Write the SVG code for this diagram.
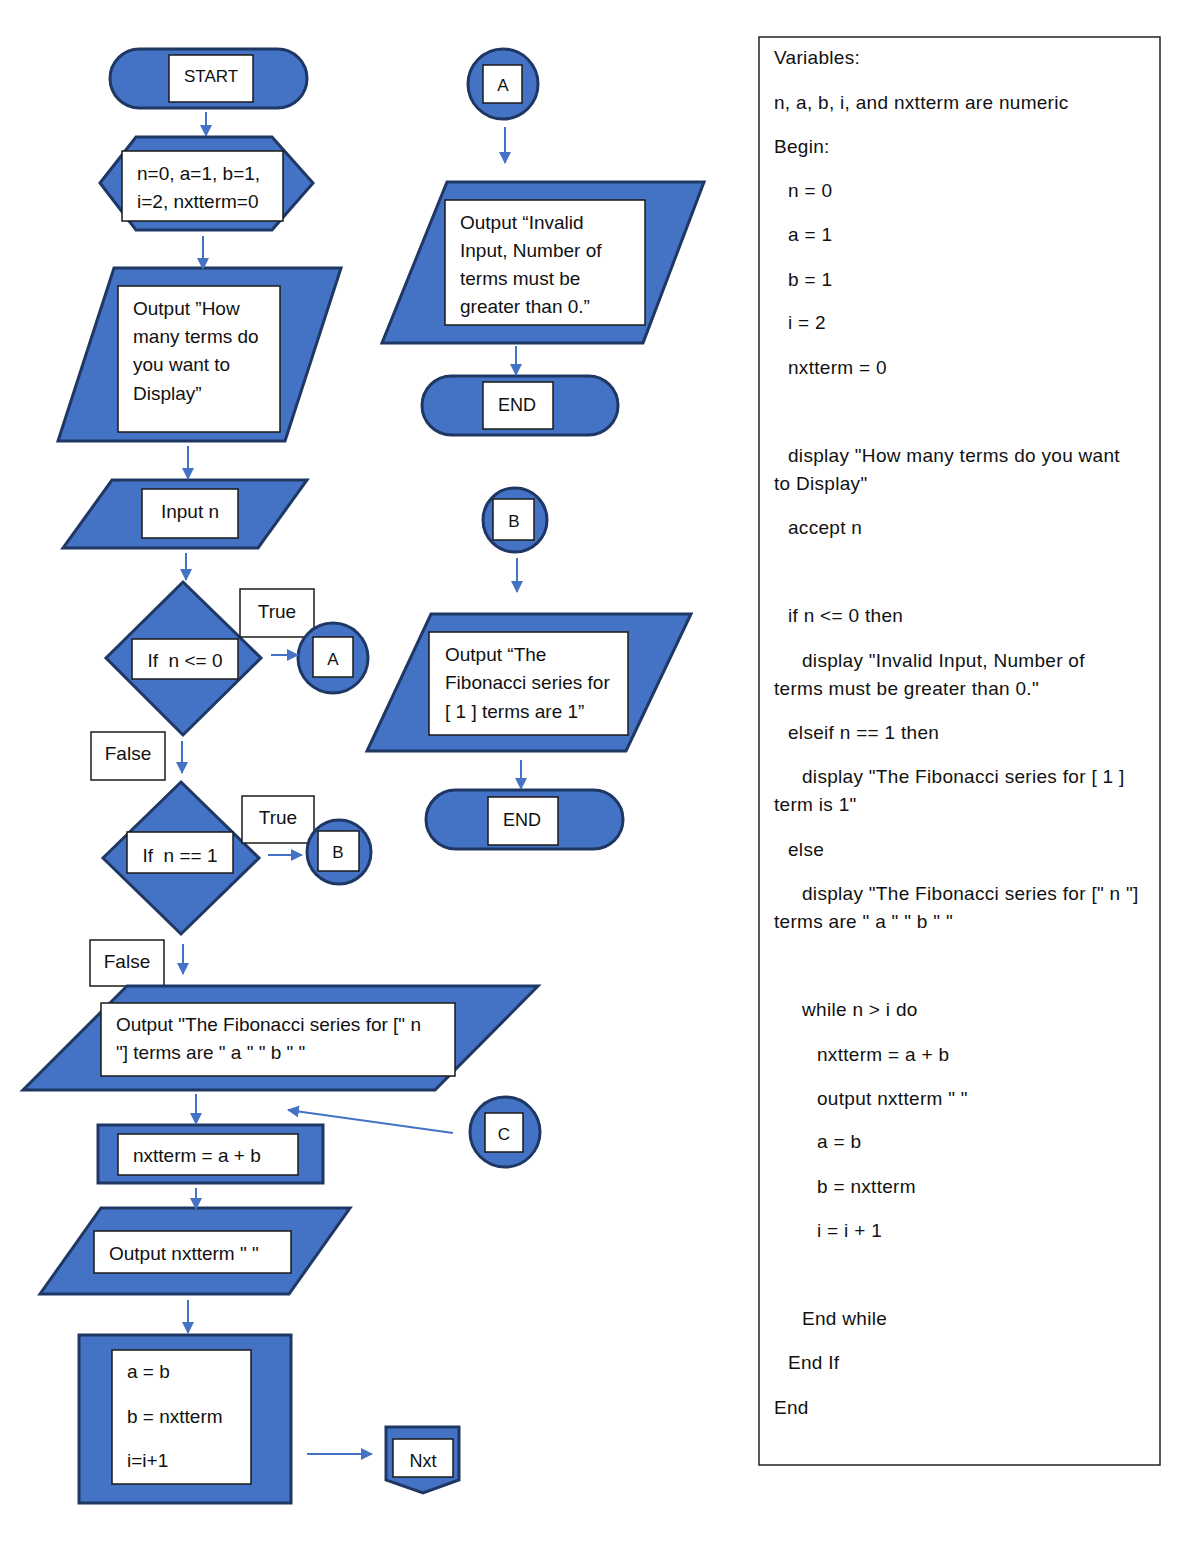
<svg xmlns="http://www.w3.org/2000/svg" width="1200" height="1553" viewBox="0 0 1200 1553">
<defs>
<style>
.sh{fill:#4472C4;stroke:#1F3763;stroke-width:3;stroke-linejoin:miter}
.bx{fill:#FFFFFF;stroke:#1a1a1a;stroke-width:1.5}
.t{font-family:"Liberation Sans",Arial,sans-serif;font-size:19px;fill:#111}
.m{text-anchor:middle}
.p{font-family:"Liberation Sans",Arial,sans-serif;font-size:19px;fill:#111;letter-spacing:0.3px}
.ln{stroke:#4472C4;stroke-width:2;fill:none;marker-end:url(#ah)}
</style>
<marker id="ah" markerUnits="userSpaceOnUse" markerWidth="12" markerHeight="12" refX="11" refY="6" orient="auto" viewBox="0 0 12 12">
<path d="M0,0 L12,6 L0,12 z" fill="#4472C4"/>
</marker>
</defs>
<rect width="1200" height="1553" fill="#FFFFFF"/>

<g id="start">
<rect class="sh" x="110" y="49" width="197" height="59" rx="29.5"/>
<rect class="bx" x="169" y="55" width="84" height="47"/>
<text class="t m" x="211" y="82" style="font-size:17px">START</text>
</g>

<g id="init">
<polygon class="sh" points="100,183 136,137 272,137 313,183 272,230 136,230"/>
<rect class="bx" x="122" y="151" width="161" height="70"/>
<text class="t" x="137" y="180">n=0, a=1, b=1,</text>
<text class="t" x="137" y="208">i=2, nxtterm=0</text>
</g>

<g id="out-how-many">
<polygon class="sh" points="114,268 341,268 285,441 58,441"/>
<rect class="bx" x="118" y="286" width="162" height="146"/>
<text class="t" x="133" y="315">Output ”How</text>
<text class="t" x="133" y="343">many terms do</text>
<text class="t" x="133" y="371">you want to</text>
<text class="t" x="133" y="400">Display”</text>
</g>

<g id="input-n">
<polygon class="sh" points="112,480 307,480 258,548 63,548"/>
<rect class="bx" x="142" y="489" width="96" height="49"/>
<text class="t m" x="190" y="518">Input n</text>
</g>

<g id="dec1">
<polygon class="sh" points="183,582 261,658 183,735 106,658"/>
<rect class="bx" x="132" y="639" width="106" height="40"/>
<text class="t m" x="185" y="667" xml:space="preserve">If  n &lt;= 0</text>
</g>

<g id="true1">
<rect class="bx" x="240" y="589" width="74" height="48"/>
<text class="t m" x="277" y="618">True</text>
</g>

<g id="conn-a1">
<circle class="sh" cx="333" cy="658" r="35"/>
<rect class="bx" x="313" y="637" width="40" height="40"/>
<text class="t m" x="333" y="665" style="font-size:17px">A</text>
</g>

<g id="false1">
<rect class="bx" x="91" y="732" width="74" height="48"/>
<text class="t m" x="128" y="760">False</text>
</g>

<g id="dec2">
<polygon class="sh" points="181,782 259,858 181,934 103,858"/>
<rect class="bx" x="127" y="832" width="106" height="41"/>
<text class="t m" x="180" y="862" xml:space="preserve">If  n == 1</text>
</g>

<g id="true2">
<rect class="bx" x="242" y="796" width="72" height="47"/>
<text class="t m" x="278" y="824">True</text>
</g>

<g id="conn-b1">
<circle class="sh" cx="339" cy="852" r="32"/>
<rect class="bx" x="318" y="831" width="41" height="40"/>
<text class="t m" x="338" y="858" style="font-size:17px">B</text>
</g>

<g id="false2">
<rect class="bx" x="90" y="940" width="74" height="46"/>
<text class="t m" x="127" y="968">False</text>
</g>

<g id="out-series">
<polygon class="sh" points="127,986 538,986 435,1090 23,1090"/>
<rect class="bx" x="101" y="1003" width="354" height="73"/>
<text class="t" x="116" y="1031">Output "The Fibonacci series for [" n</text>
<text class="t" x="116" y="1059">"] terms are " a " " b " "</text>
</g>

<g id="calc-next">
<rect class="sh" x="98" y="1125" width="225" height="58"/>
<rect class="bx" x="118" y="1134" width="180" height="41"/>
<text class="t" x="133" y="1162">nxtterm = a + b</text>
</g>

<g id="conn-c">
<circle class="sh" cx="505" cy="1132" r="35"/>
<rect class="bx" x="485" y="1113" width="38" height="39"/>
<text class="t m" x="504" y="1140" style="font-size:17px">C</text>
</g>

<g id="out-next">
<polygon class="sh" points="101,1208 350,1208 289,1294 40,1294"/>
<rect class="bx" x="94" y="1231" width="197" height="42"/>
<text class="t" x="109" y="1260">Output nxtterm " "</text>
</g>

<g id="update">
<rect class="sh" x="79" y="1335" width="212" height="168"/>
<rect class="bx" x="112" y="1350" width="139" height="134"/>
<text class="t" x="127" y="1378">a = b</text>
<text class="t" x="127" y="1423">b = nxtterm</text>
<text class="t" x="127" y="1467">i=i+1</text>
</g>

<g id="nxt">
<polygon class="sh" points="386,1427 459,1427 459,1480 423,1493 386,1480"/>
<rect class="bx" x="393" y="1439" width="60" height="38"/>
<text class="t m" x="423" y="1467" style="font-size:18px">Nxt</text>
</g>

<g id="conn-a2">
<circle class="sh" cx="503" cy="84" r="35"/>
<rect class="bx" x="483" y="65" width="39" height="38"/>
<text class="t m" x="503" y="91" style="font-size:17px">A</text>
</g>

<g id="out-invalid">
<polygon class="sh" points="447,182 704,182 643,343 382,343"/>
<rect class="bx" x="445" y="200" width="200" height="125"/>
<text class="t" x="460" y="229">Output “Invalid</text>
<text class="t" x="460" y="257">Input, Number of</text>
<text class="t" x="460" y="285">terms must be</text>
<text class="t" x="460" y="313">greater than 0.”</text>
</g>

<g id="end1">
<rect class="sh" x="422" y="376" width="196" height="59" rx="29.5"/>
<rect class="bx" x="483" y="382" width="70" height="47"/>
<text class="t m" x="517" y="411" style="font-size:18px">END</text>
</g>

<g id="conn-b2">
<circle class="sh" cx="515" cy="520" r="32"/>
<rect class="bx" x="493" y="499" width="41" height="41"/>
<text class="t m" x="514" y="527" style="font-size:17px">B</text>
</g>

<g id="out-one">
<polygon class="sh" points="431,614 691,614 626,751 367,751"/>
<rect class="bx" x="429" y="632" width="199" height="103"/>
<text class="t" x="445" y="661">Output “The</text>
<text class="t" x="445" y="689">Fibonacci series for</text>
<text class="t" x="445" y="718">[ 1 ] terms are 1”</text>
</g>

<g id="end2">
<rect class="sh" x="426" y="790" width="197" height="59" rx="29.5"/>
<rect class="bx" x="488" y="797" width="70" height="48"/>
<text class="t m" x="522" y="826" style="font-size:18px">END</text>
</g>

<g id="connectors">
<line class="ln" x1="206" y1="112" x2="206" y2="136"/>
<line class="ln" x1="203" y1="236" x2="203" y2="269"/>
<line class="ln" x1="188" y1="446" x2="188" y2="479"/>
<line class="ln" x1="186" y1="553" x2="186" y2="580"/>
<line class="ln" x1="271" y1="655" x2="298" y2="655"/>
<line class="ln" x1="182" y1="741" x2="182" y2="773"/>
<line class="ln" x1="268" y1="855" x2="302" y2="855"/>
<line class="ln" x1="183" y1="944" x2="183" y2="974"/>
<line class="ln" x1="196" y1="1094" x2="196" y2="1124"/>
<line class="ln" x1="453" y1="1133" x2="288" y2="1110"/>
<line class="ln" x1="196" y1="1188" x2="196" y2="1209"/>
<line class="ln" x1="188" y1="1300" x2="188" y2="1333"/>
<line class="ln" x1="307" y1="1454" x2="372" y2="1454"/>
<line class="ln" x1="505" y1="127" x2="505" y2="163"/>
<line class="ln" x1="516" y1="346" x2="516" y2="375"/>
<line class="ln" x1="517" y1="558" x2="517" y2="592"/>
<line class="ln" x1="521" y1="760" x2="521" y2="789"/>
</g>

<g id="pseudocode">
<rect x="759" y="37" width="401" height="1428" fill="#FFFFFF" stroke="#222" stroke-width="1.5"/>
<text class="p" x="774" y="64">Variables:</text>
<text class="p" x="774" y="109">n, a, b, i, and nxtterm are numeric</text>
<text class="p" x="774" y="153">Begin:</text>
<text class="p" x="788" y="197">n = 0</text>
<text class="p" x="788" y="241">a = 1</text>
<text class="p" x="788" y="286">b = 1</text>
<text class="p" x="788" y="329">i = 2</text>
<text class="p" x="788" y="374">nxtterm = 0</text>
<text class="p" x="788" y="462">display "How many terms do you want</text>
<text class="p" x="774" y="490">to Display"</text>
<text class="p" x="788" y="534">accept n</text>
<text class="p" x="788" y="622">if n &lt;= 0 then</text>
<text class="p" x="802" y="667">display "Invalid Input, Number of</text>
<text class="p" x="774" y="695">terms must be greater than 0."</text>
<text class="p" x="788" y="739">elseif n == 1 then</text>
<text class="p" x="802" y="783">display "The Fibonacci series for [ 1 ]</text>
<text class="p" x="774" y="811">term is 1"</text>
<text class="p" x="788" y="856">else</text>
<text class="p" x="802" y="900">display "The Fibonacci series for [" n "]</text>
<text class="p" x="774" y="928">terms are " a " " b " "</text>
<text class="p" x="802" y="1016">while n &gt; i do</text>
<text class="p" x="817" y="1061">nxtterm = a + b</text>
<text class="p" x="817" y="1105">output nxtterm " "</text>
<text class="p" x="817" y="1148">a = b</text>
<text class="p" x="817" y="1193">b = nxtterm</text>
<text class="p" x="817" y="1237">i = i + 1</text>
<text class="p" x="802" y="1325">End while</text>
<text class="p" x="788" y="1369">End If</text>
<text class="p" x="774" y="1414">End</text>
</g>
</svg>
